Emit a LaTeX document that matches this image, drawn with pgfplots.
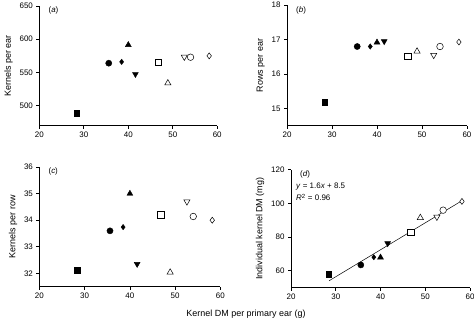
\documentclass[border=0pt]{standalone}
\usepackage{fontspec}
\setmainfont{Liberation Sans}
\usepackage{pgfplots}
\pgfplotsset{compat=1.18}
\usepackage{pgfplotstable}

\pgfplotstableread{
x ya yb yc yd cls
28.4 489 15.19 32.12 58.2 fsq
35.6 564 16.80 33.60 63.5 fci
38.5 566 16.80 33.74 68.1 fdi
40.0 591.5 16.92 35.00 68.0 ftu
41.6 547.5 16.95 32.35 76.3 ftd
46.8 565.5 16.52 34.21 82.8 osq
48.9 534 16.66 32.04 91.5 otu
52.6 573.5 16.55 34.70 92.0 otd
54.0 573 16.80 34.14 96.0 oci
58.2 575 16.93 34.00 101.2 odi
}\datatable

\tikzset{plab/.style={anchor=north west, inner sep=0pt, font=\fontsize{8}{9}\selectfont}}
\pgfplotsset{
  panel/.style={
    scale only axis,
    axis lines*=left,
    axis line style={-, line width=0.8pt},
    tick align=outside,
    major tick length=3bp,
    tick style={black, line width=0.8pt},
    xmin=20, xmax=60, xtick={20,30,40,50,60},
    tick label style={font=\fontsize{8}{9}\selectfont},
    label style={font=\fontsize{9}{10}\selectfont},
    /pgf/number format/assume math mode=true,
    clip=false,
    scatter/classes={
      fsq={mark=square*, mark size=2.9pt, draw=black, fill=black},
      fci={mark=*, mark size=3.1pt, draw=black, fill=black},
      fdi={mark=diamond*, mark size=2.7pt, draw=black, fill=black},
      ftu={mark=triangle*, mark size=3.4pt, draw=black, fill=black},
      ftd={mark=triangle*, mark size=3.4pt, draw=black, fill=black, rotate=180},
      osq={mark=square*, mark size=3.2pt, draw=black, fill=white, line width=0.5pt},
      otu={mark=triangle*, mark size=3.6pt, draw=black, fill=white, line width=0.5pt},
      otd={mark=triangle*, mark size=3.6pt, draw=black, fill=white, line width=0.5pt, rotate=180},
      oci={mark=*, mark size=3.3pt, draw=black, fill=white, line width=0.5pt},
      odi={mark=diamond*, mark size=3.0pt, draw=black, fill=white, line width=0.5pt}
    },
  },
  pts/.style={scatter, only marks, scatter src=explicit symbolic},
}

\begin{document}
\begin{tikzpicture}
\useasboundingbox (0,0) rectangle (474bp,321bp);

% (a)
\begin{axis}[panel, at={(39.4bp,195.3bp)}, anchor=south west,
  width=177.8bp, height=119.7bp,
  ymin=470, ymax=650, ytick={500,550,600,650},
  ylabel={Kernels per ear}]
  \addplot[pts] table[x=x, y=ya, meta=cls] {\datatable};
  \node[plab] at ([xshift=9bp,yshift=-1bp]rel axis cs:0,1) {(\textit{a})};
\end{axis}

% (b)
\begin{axis}[panel, at={(287bp,195.3bp)}, anchor=south west,
  width=180bp, height=120.5bp,
  ymin=14.5, ymax=18, ytick={15,16,17,18},
  ylabel={Rows per ear}]
  \addplot[pts] table[x=x, y=yb, meta=cls] {\datatable};
  \node[plab] at ([xshift=9bp,yshift=-1bp]rel axis cs:0,1) {(\textit{b})};
\end{axis}

% (c)
\begin{axis}[panel, at={(39.4bp,34.3bp)}, anchor=south west,
  width=181bp, height=119.7bp,
  ymin=31.5, ymax=36, ytick={32,33,34,35,36},
  ylabel={Kernels per row}]
  \addplot[pts] table[x=x, y=yc, meta=cls] {\datatable};
  \node[plab] at ([xshift=9bp,yshift=-1bp]rel axis cs:0,1) {(\textit{c})};
\end{axis}

% (d)
\begin{axis}[panel, at={(291bp,33.3bp)}, anchor=south west,
  width=179bp, height=118bp,
  ymin=50, ymax=120, ytick={60,80,100,120},
  ylabel={Individual kernel DM (mg)}]
  \addplot[black, line width=0.5pt, no marks] coordinates {(28.5,54.1) (58.2,101.6)};
  \addplot[pts] table[x=x, y=yd, meta=cls] {\datatable};
  \node[plab] at ([xshift=9bp,yshift=-1bp]rel axis cs:0,1) {(\textit{d})};
  \node[plab] at ([xshift=5bp,yshift=-13bp]rel axis cs:0,1) {\textit{y} = 1.6\textit{x} + 8.5};
  \node[plab] at ([xshift=5bp,yshift=-24bp]rel axis cs:0,1) {\textit{R}\textsuperscript{2} = 0.96};
\end{axis}

\node[font=\fontsize{9}{10}\selectfont] at (246bp,7bp) {Kernel DM per primary ear (g)};
\end{tikzpicture}
\end{document}
